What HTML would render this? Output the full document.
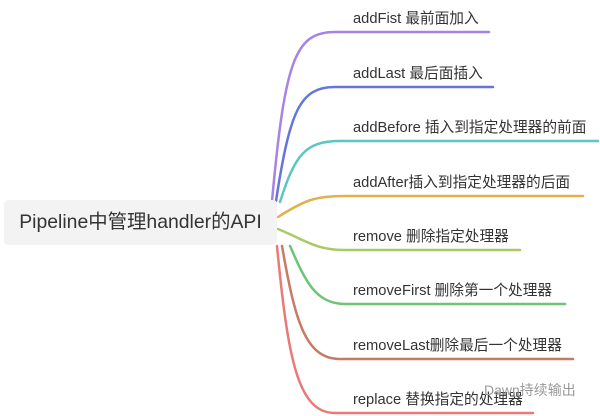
<!DOCTYPE html>
<html><head><meta charset="utf-8"><style>
body{margin:0;background:#fff;width:600px;height:416px;overflow:hidden;position:relative;font-family:"Liberation Sans","Noto Sans CJK SC",sans-serif;}
.root{position:absolute;left:4px;top:200px;width:273px;height:45px;background:#f3f3f3;border-radius:4px;font-size:19.4px;color:#333;line-height:45px;text-align:center;}
.t{position:absolute;left:353px;font-size:14.7px;color:#333;white-space:nowrap;}
svg{position:absolute;left:0;top:0;}
</style></head><body>
<svg width="600" height="416" fill="none" stroke-width="2.5" stroke-linecap="round">
<path d="M272,201 C285,60 295,32 335,32 L489,32" stroke="#a783e6"/>
<path d="M276,201 C290,110 300,87 335,87 L493,87" stroke="#6675dc"/>
<path d="M280,202 C295,155 305,141 340,141 L598,141" stroke="#5cc6c2"/>
<path d="M278,217 C305,200 315,196 345,196 L583,196" stroke="#e2b14c"/>
<path d="M278,229 C305,240 315,250 345,250 L520,250" stroke="#a8c964"/>
<path d="M290,246 C305,280 315,304 345,304 L565,304" stroke="#6cc474"/>
<path d="M282,246 C295,320 305,359 340,359 L573,359" stroke="#c77a66"/>
<path d="M277,246 C288,360 298,413 335,413 L533,413" stroke="#ea7a7a"/>
</svg>
<div class="root">Pipeline中管理handler的API</div>
<div class="t" style="top:7px">addFist 最前面加入</div>
<div class="t" style="top:62px">addLast 最后面插入</div>
<div class="t" style="top:116px">addBefore 插入到指定处理器的前面</div>
<div class="t" style="top:171px">addAfter插入到指定处理器的后面</div>
<div class="t" style="top:225px">remove 删除指定处理器</div>
<div class="t" style="top:279px">removeFirst 删除第一个处理器</div>
<div class="t" style="top:334px">removeLast删除最后一个处理器</div>
<div class="t" style="top:388px">replace 替换指定的处理器</div>
<div style="position:absolute;left:484px;top:380px;font-size:14px;color:#999;">Dawn持续输出</div>
</body></html>
